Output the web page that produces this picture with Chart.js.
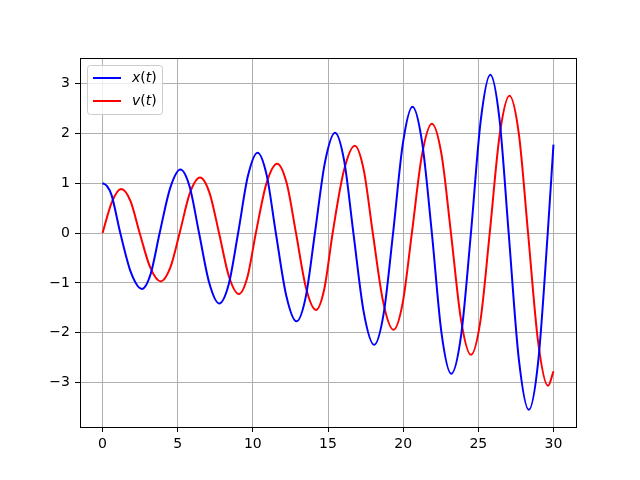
<!DOCTYPE html>
<html>
<head>
<meta charset="utf-8">
<script src="https://cdn.jsdelivr.net/npm/chart.js@4/dist/chart.umd.min.js"></script>
<style>
  body { margin: 0; background: #fff; }
  canvas { display: block; }
</style>
</head>
<body>
<canvas id="chart" width="640" height="480"></canvas>
<script>
// values (peaks, zero crossings, in-between points)
const tX = [0, 0.3, 0.6, 1.18, 1.9, 2.62, 3.2, 3.8, 4.5, 5.18, 5.8, 6.42, 7.1, 7.76, 8.4, 9.02,
  9.67, 10.31, 10.92, 11.53, 12.22, 12.91, 13.52, 14.13, 14.8, 15.47, 16.08, 16.69, 17.38,
  18.07, 18.7, 19.33, 19.98, 20.62, 21.26, 21.91, 22.55, 23.2, 23.86, 24.51, 25.16, 25.8,
  26.41, 27.02, 27.69, 28.36, 28.99, 29.62, 30];
const xVals = [1.0, 0.94, 0.76, 0, -0.8, -1.12, -0.82, 0, 0.9, 1.27, 0.92, 0, -1.0, -1.41, -1.02, 0,
  1.14, 1.61, 1.16, 0, -1.25, -1.77, -1.28, 0, 1.42, 2.01, 1.44, 0, -1.59,
  -2.24, -1.62, 0, 1.79, 2.53, 1.82, 0, -2.0, -2.82, -2.04, 0, 2.25, 3.17,
  2.28, 0, -2.51, -3.54, -2.56, 0, 1.77];

const tV = [0, 0.62, 1.24, 1.86, 2.47, 3.17, 3.87, 4.5, 5.13, 5.8, 6.49, 7.12, 7.75, 8.41, 9.07,
  9.64, 10.2, 10.9, 11.62, 12.25, 12.87, 13.53, 14.2, 14.76, 15.31, 16.05, 16.78, 17.38,
  17.98, 18.67, 19.36, 19.97, 20.58, 21.25, 21.91, 22.55, 23.18, 23.85, 24.51, 25.14, 25.76,
  26.42, 27.07, 27.7, 28.31, 28.98, 29.64, 30];
const vVals = [0, 0.62, 0.88, 0.64, 0, -0.69, -0.97, -0.7, 0, 0.79, 1.11, 0.8, 0, -0.87, -1.22,
  -0.88, 0, 0.99, 1.39, 1.0, 0, -1.09, -1.54, -1.11, 0, 1.24, 1.75, 1.26,
  0, -1.38, -1.94, -1.4, 0, 1.56, 2.19, 1.58, 0, -1.74, -2.44, -1.76, 0,
  1.96, 2.75, 1.98, 0, -2.18, -3.06, -2.77];

const seriesNames = ["x(t)", "v(t)"];
const seriesColors = ["#0000ff", "#ff0000"];

const FONT = '"DejaVu Sans", sans-serif';

const toPoints = (ts, ys) => ts.map((t, i) => ({ x: t, y: ys[i] }));
const minusFmt = (v) => (v < 0 ? "\u2212" + Math.abs(v) : String(v));

// frame around the axes + matplotlib style legend
const framePlugin = {
  id: "frame",
  afterDraw(chart) {
    const c = chart.ctx;
    const a = chart.chartArea;
    c.save();
    c.strokeStyle = "#000";
    c.lineWidth = 1;
    c.strokeRect(Math.round(a.left) + 0.5, Math.round(a.top) + 0.5,
      Math.round(a.right - a.left), Math.round(a.bottom - a.top));

    // legend box
    const bx = 87.5, by = 65.5, bw = 75, bh = 49, r = 3;
    c.beginPath();
    c.moveTo(bx + r, by);
    c.arcTo(bx + bw, by, bx + bw, by + bh, r);
    c.arcTo(bx + bw, by + bh, bx, by + bh, r);
    c.arcTo(bx, by + bh, bx, by, r);
    c.arcTo(bx, by, bx + bw, by, r);
    c.closePath();
    c.fillStyle = "rgba(255,255,255,0.8)";
    c.fill();
    c.strokeStyle = "#cccccc";
    c.lineWidth = 1;
    c.stroke();

    const rows = [78, 101];
    seriesNames.forEach((name, i) => {
      const y = rows[i];
      c.strokeStyle = seriesColors[i];
      c.lineWidth = 2;
      c.beginPath();
      c.moveTo(93, y);
      c.lineTo(121, y);
      c.stroke();

      // mathtext: italic letters, upright parens
      const letter = name[0];
      const parts = [[letter, true], ["(", false], ["t", true], [")", false]];
      let x = 132;
      c.fillStyle = "#000";
      c.textBaseline = "middle";
      c.textAlign = "left";
      parts.forEach(([s, it]) => {
        c.font = (it ? "italic " : "") + "14px " + FONT;
        c.fillText(s, x, y);
        x += c.measureText(s).width;
      });
    });
    c.restore();
  },
};

const ctx = document.getElementById("chart").getContext("2d");
new Chart(ctx, {
  type: "line",
  data: {
    datasets: [
      {
        label: seriesNames[0],
        data: toPoints(tX, xVals),
        borderColor: seriesColors[0],
        borderWidth: 2,
        pointRadius: 0,
        cubicInterpolationMode: "monotone",
        fill: false,
      },
      {
        label: seriesNames[1],
        data: toPoints(tV, vVals),
        borderColor: seriesColors[1],
        borderWidth: 2,
        pointRadius: 0,
        cubicInterpolationMode: "monotone",
        fill: false,
      },
    ],
  },
  options: {
    responsive: false,
    animation: false,
    devicePixelRatio: 1,
    layout: { padding: { left: 0, top: 58, right: 64, bottom: 0 } },
    plugins: { legend: { display: false }, tooltip: { enabled: false } },
    scales: {
      x: {
        type: "linear",
        min: -1.5,
        max: 31.5,
        afterFit: (s) => { s.height = 53; },
        ticks: {
          stepSize: 5,
          includeBounds: false,
          padding: 4,
          color: "#000",
          font: { family: FONT, size: 14 },
          maxRotation: 0,
          callback: minusFmt,
        },
        grid: { color: "#b0b0b0", lineWidth: 1, tickLength: 5, tickColor: "#000" },
        border: { display: false },
      },
      y: {
        type: "linear",
        min: -3.886,
        max: 3.506,
        afterFit: (s) => { s.width = 80; },
        ticks: {
          stepSize: 1,
          includeBounds: false,
          padding: 5,
          color: "#000",
          font: { family: FONT, size: 14 },
          callback: minusFmt,
        },
        grid: { color: "#b0b0b0", lineWidth: 1, tickLength: 5, tickColor: "#000" },
        border: { display: false },
      },
    },
  },
  plugins: [framePlugin],
});
</script>
</body>
</html>
